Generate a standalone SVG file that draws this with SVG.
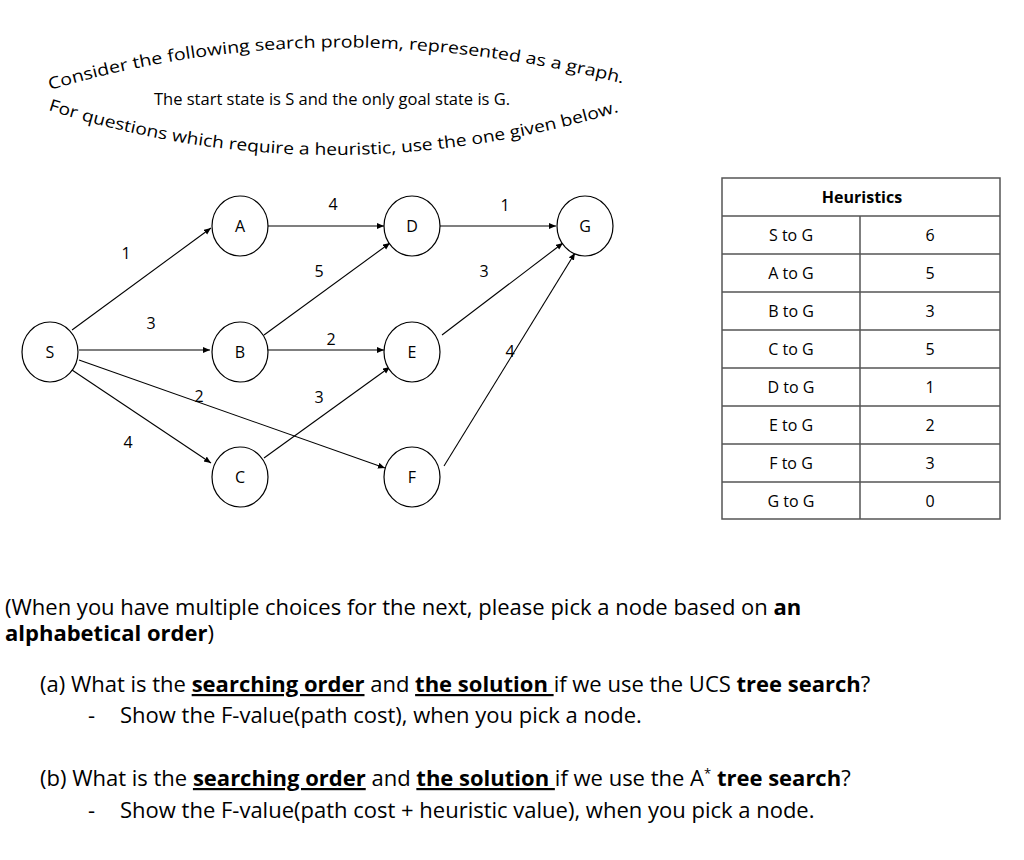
<svg xmlns="http://www.w3.org/2000/svg" width="1024" height="860" viewBox="0 0 1024 860">
<style>
text{font-family:"Open Sans","Liberation Sans",sans-serif;fill:#000}
.n ellipse{fill:#fff;stroke:#000;stroke-width:1.2}
.n text{font-size:16px;text-anchor:middle}
.e line{stroke:#000;stroke-width:1.1;marker-end:url(#ar)}
.w{font-size:16px;text-anchor:middle}
.t line,.t rect{stroke:#555;stroke-width:1.5;fill:none}
.t text{font-size:16px;text-anchor:middle}
.q{font-size:22px}
.h{font-size:16.5px}
</style>
<defs>
<marker id="ar" markerWidth="8" markerHeight="8" refX="7" refY="3" orient="auto" markerUnits="userSpaceOnUse"><path d="M0,0 L7,3 L0,6 z" fill="#000"/></marker>
<path id="p1" d="M50,90 Q322,8 625,84"/>
<path id="p2" d="M48,110 Q330,200 625,110"/>
</defs>
<text class="h"><textPath href="#p1" textLength="580" lengthAdjust="spacingAndGlyphs">Consider the following search problem, represented as a graph.</textPath></text>
<text class="h" x="332" y="105" text-anchor="middle">The start state is S and the only goal state is G.</text>
<text class="h"><textPath href="#p2" textLength="580" lengthAdjust="spacingAndGlyphs">For questions which require a heuristic, use the one given below.</textPath></text>
<g id="edges" class="e">
<line x1="72" y1="330" x2="211" y2="228"/>
<line x1="79" y1="350" x2="210" y2="350"/>
<line x1="72" y1="370" x2="211" y2="463"/>
<line x1="79" y1="360" x2="385" y2="468"/>
<line x1="266" y1="226" x2="384" y2="226"/>
<line x1="264" y1="335" x2="390" y2="243"/>
<line x1="266" y1="350" x2="384" y2="350"/>
<line x1="264" y1="458" x2="390" y2="367"/>
<line x1="437" y1="226" x2="556" y2="226"/>
<line x1="442" y1="335" x2="563" y2="243"/>
<line x1="444" y1="466" x2="575" y2="253"/>
</g>
<g>
<text class="w" x="333" y="210">4</text>
<text class="w" x="505" y="211">1</text>
<text class="w" x="126" y="259">1</text>
<text class="w" x="319" y="277">5</text>
<text class="w" x="484" y="277">3</text>
<text class="w" x="151" y="329">3</text>
<text class="w" x="331" y="345">2</text>
<text class="w" x="510" y="357">4</text>
<text class="w" x="199" y="402">2</text>
<text class="w" x="319" y="403">3</text>
<text class="w" x="128" y="448">4</text>
</g>
<g id="nS" class="n"><ellipse cx="50" cy="352" rx="28" ry="30"/><text x="50" y="358">S</text></g>
<g id="nA" class="n"><ellipse cx="240" cy="226" rx="28" ry="30"/><text x="240" y="232">A</text></g>
<g id="nB" class="n"><ellipse cx="240" cy="352" rx="28" ry="30"/><text x="240" y="358">B</text></g>
<g id="nC" class="n"><ellipse cx="240" cy="477" rx="28" ry="30"/><text x="240" y="483">C</text></g>
<g id="nD" class="n"><ellipse cx="412" cy="226" rx="28" ry="30"/><text x="412" y="232">D</text></g>
<g id="nE" class="n"><ellipse cx="412" cy="352" rx="28" ry="30"/><text x="412" y="358">E</text></g>
<g id="nF" class="n"><ellipse cx="412" cy="477" rx="28" ry="30"/><text x="412" y="483">F</text></g>
<g id="nG" class="n"><ellipse cx="585" cy="226" rx="28" ry="30"/><text x="585" y="232">G</text></g>
<g id="table" class="t">
<rect x="722" y="178" width="278" height="341"/>
<line x1="722" y1="216" x2="1000" y2="216"/>
<line x1="722" y1="254" x2="1000" y2="254"/>
<line x1="722" y1="292" x2="1000" y2="292"/>
<line x1="722" y1="330" x2="1000" y2="330"/>
<line x1="722" y1="368" x2="1000" y2="368"/>
<line x1="722" y1="406" x2="1000" y2="406"/>
<line x1="722" y1="444" x2="1000" y2="444"/>
<line x1="722" y1="482" x2="1000" y2="482"/>
<line x1="860" y1="216" x2="860" y2="519"/>
<text x="862" y="203" font-weight="bold">Heuristics</text>
<text x="791" y="241">S to G</text><text x="930" y="241">6</text>
<text x="791" y="279">A to G</text><text x="930" y="279">5</text>
<text x="791" y="317">B to G</text><text x="930" y="317">3</text>
<text x="791" y="355">C to G</text><text x="930" y="355">5</text>
<text x="791" y="393">D to G</text><text x="930" y="393">1</text>
<text x="791" y="431">E to G</text><text x="930" y="431">2</text>
<text x="791" y="469">F to G</text><text x="930" y="469">3</text>
<text x="791" y="507">G to G</text><text x="930" y="507">0</text>
</g>
<text class="q" x="5" y="615" font-size="23.5">(When you have multiple choices for the next, please pick a node based on <tspan font-weight="bold">an</tspan></text>
<text class="q" x="5" y="641" font-size="23.5" font-weight="bold">alphabetical order<tspan font-weight="normal">)</tspan></text>
<text class="q" x="40" y="692">(a) What is the <tspan font-weight="bold" text-decoration="underline">searching order</tspan> and <tspan font-weight="bold" text-decoration="underline">the solution </tspan>if we use the UCS <tspan font-weight="bold">tree search</tspan>?</text>
<text class="q" x="88" y="723">-</text>
<text class="q" x="120" y="723">Show the F-value(path cost), when you pick a node.</text>
<text class="q" x="40" y="786">(b) What is the <tspan font-weight="bold" text-decoration="underline">searching order</tspan> and <tspan font-weight="bold" text-decoration="underline">the solution </tspan>if we use the A<tspan font-size="13" dy="-8">*</tspan><tspan dy="8"> </tspan><tspan font-weight="bold">tree search</tspan>?</text>
<text class="q" x="88" y="818">-</text>
<text class="q" x="120" y="818">Show the F-value(path cost + heuristic value), when you pick a node.</text>
</svg>
